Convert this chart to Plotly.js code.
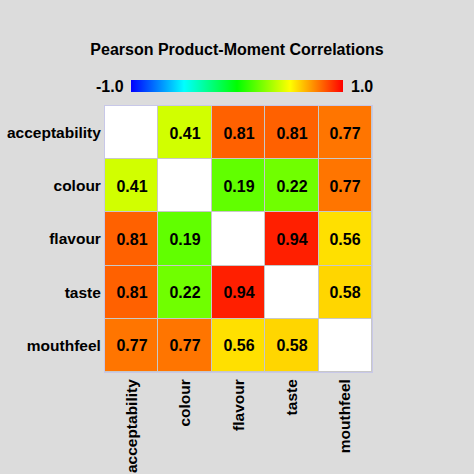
<!DOCTYPE html>
<html>
<head>
<meta charset="utf-8">
<script src="https://cdn.plot.ly/plotly-3.0.1.min.js"></script>
<style>html,body{margin:0;padding:0;background:#dcdcdc;}#chart{width:474px;height:474px;}</style>
</head>
<body>
<div id="chart"></div>
<script>
const categories = ["acceptability", "colour", "flavour", "taste", "mouthfeel"];
const rowAcceptability = [null, 0.41, 0.81, 0.81, 0.77];
const rowColour        = [0.41, null, 0.19, 0.22, 0.77];
const rowFlavour       = [0.81, 0.19, null, 0.94, 0.56];
const rowTaste         = [0.81, 0.22, 0.94, null, 0.58];
const rowMouthfeel     = [0.77, 0.77, 0.56, 0.58, null];
const scaleMin = -1.0;
const scaleMax = 1.0;
const scaleLabels = ["-1.0", "1.0"];

const z = [rowAcceptability, rowColour, rowFlavour, rowTaste, rowMouthfeel];
const diag = categories.map((r, i) => categories.map((c, j) => (i === j ? 1 : null)));

const font = "Liberation Sans, Arial, sans-serif";

const heat = {
  type: "heatmap",
  x: categories,
  y: categories,
  z: z,
  zmin: scaleMin,
  zmax: scaleMax,
  xgap: 1,
  ygap: 1,
  colorscale: [[0, "#0000ff"], [0.25, "#00ffff"], [0.5, "#00ff00"], [0.75, "#ffff00"], [1, "#ff0000"]],
  texttemplate: "<b>%{z:.2f}</b>",
  textfont: {family: font, size: 16, color: "#000000"},
  hoverongaps: false,
  colorbar: {
    orientation: "h",
    x: 0.494, xanchor: "center",
    y: 1.075, yanchor: "middle",
    len: 212, lenmode: "pixels",
    thickness: 12, thicknessmode: "pixels",
    xpad: 0, ypad: 0,
    outlinewidth: 0,
    showticklabels: false,
    ticks: ""
  }
};

const white = {
  type: "heatmap",
  x: categories,
  y: categories,
  z: diag,
  xgap: 1,
  ygap: 1,
  colorscale: [[0, "#ffffff"], [1, "#ffffff"]],
  showscale: false,
  hoverongaps: false
};

const layout = {
  width: 474,
  height: 474,
  paper_bgcolor: "#dcdcdc",
  plot_bgcolor: "#c8c8c8",
  margin: {l: 105, r: 102, t: 106, b: 102},
  title: {
    text: "<b>Pearson Product-Moment Correlations</b>",
    font: {family: font, size: 16, color: "#000000"},
    x: 0.5, xanchor: "center", y: 0.896, yanchor: "middle"
  },
  xaxis: {
    type: "category",
    tickangle: -90,
    ticks: "",
    tickfont: {family: font, size: 15.5, color: "#000000", weight: "bold"},
    showline: true, mirror: true, linecolor: "#c8c8e8", linewidth: 1,
    showgrid: false, zeroline: false, fixedrange: true
  },
  yaxis: {
    type: "category",
    autorange: "reversed",
    ticks: "",
    tickfont: {family: font, size: 15.5, color: "#000000", weight: "bold"},
    showline: true, mirror: true, linecolor: "#c8c8e8", linewidth: 1,
    showgrid: false, zeroline: false, fixedrange: true
  },
  annotations: [
    {text: "<b>" + scaleLabels[0] + "</b>", xref: "paper", yref: "paper", x: 0.079, xanchor: "right", y: 1.075, yanchor: "middle", showarrow: false, font: {family: font, size: 16, color: "#000000"}},
    {text: "<b>" + scaleLabels[1] + "</b>", xref: "paper", yref: "paper", x: 0.914, xanchor: "left", y: 1.075, yanchor: "middle", showarrow: false, font: {family: font, size: 16, color: "#000000"}}
  ]
};

Plotly.newPlot("chart", [heat, white], layout, {displayModeBar: false, staticPlot: true});
</script>
</body>
</html>
